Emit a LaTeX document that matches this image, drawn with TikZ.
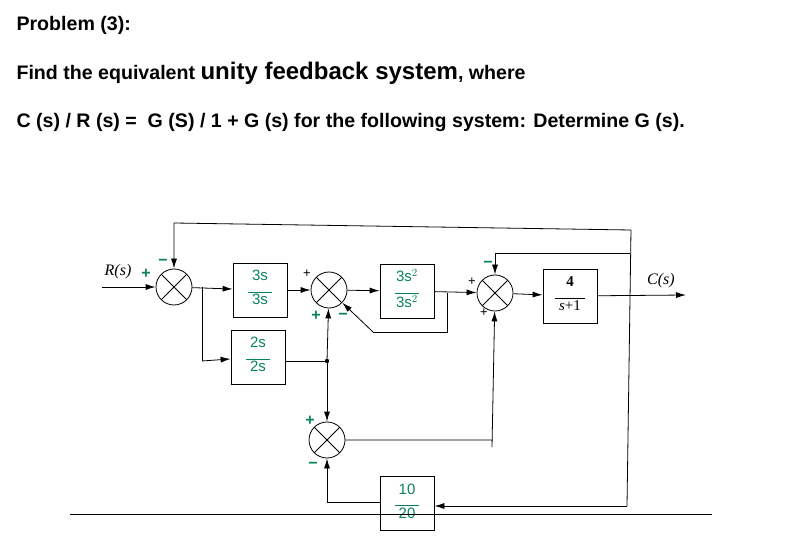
\documentclass[tikz,border=0pt]{standalone}
\usepackage{fontspec}
\setmainfont{Liberation Sans}
\newfontfamily\serifit{Liberation Serif}
\usetikzlibrary{arrows.meta}
\definecolor{grn}{RGB}{10,130,95}
\tikzset{
 sum/.style={circle,draw,thick,minimum size=36pt,inner sep=0pt,path picture={\draw[thick] (path picture bounding box.north west)--(path picture bounding box.south east) (path picture bounding box.north east)--(path picture bounding box.south west);}},
 blk/.style={draw,thick,minimum width=54pt,minimum height=54pt,inner sep=0pt,font=\fontsize{15}{15}\selectfont},
 ln/.style={thick},
 ar/.style={thick,-{Latex[length=10pt,width=6pt]}},
 sg/.style={font=\fontsize{16}{16}\selectfont\bfseries,text=grn},
 sb/.style={font=\fontsize{13}{13}\selectfont},
 ttl/.style={anchor=base west,font=\bfseries\fontsize{19.6}{20}\selectfont}
}
\newcommand{\gf}[2]{\textcolor{grn}{\begin{tabular}{@{}c@{}}#1\\[-3pt]\rule{24pt}{0.7pt}\\[-3pt]#2\end{tabular}}}
\begin{document}
\begin{tikzpicture}[x=1pt,y=-1pt]
\useasboundingbox (0,0) rectangle (796,548);
\node[ttl] (t1) at (13,31) {Problem (3):};
\node[ttl] (t2) at (13,80) {Find the equivalent {\fontsize{24}{24}\selectfont unity feedback system}, where};
\node[ttl] (t3) at (13,128) {C (s) / R (s) =\ \ G (S) / 1 + G (s) for the following system: Determine G (s).};
% summing junctions
\node[sum] (s1) at (174,287) {};
\node[sum] (s2) at (329,290) {};
\node[sum] (s3) at (495,293) {};
\node[sum] (s4) at (327,440) {};
% blocks
\node[blk] (b1) at (260,290) {\gf{3s}{3s}};
\node[blk] (b2) at (258,357) {\gf{2s}{2s}};
\node[blk] (b3) at (407,291) {\gf{3s$^2$}{3s$^2$}};
\node[blk] (b4) at (570,296) {\serifit\begin{tabular}{@{}c@{}}\textbf{4}\\[-3pt]\rule{30pt}{0.7pt}\\[-3pt]\textit{s}+1\end{tabular}};
\node[blk] (b5) at (407,503) {\gf{10}{20}};
% coordinates
\coordinate (rin) at (102,287);
\coordinate (out) at (686,295);
\coordinate (p1) at (202,287);
\coordinate (p2) at (202,361);
\coordinate (dot) at (327,361);
\coordinate (fbtl) at (174,223);
\coordinate (fbtr) at (631,230);
\coordinate (fbbr) at (627,506);
\coordinate (fb3) at (630,253);
\coordinate (fb3l) at (495,253);
\coordinate (q1) at (447,293);
\coordinate (q2) at (447,332);
\coordinate (q3) at (373,332);
\coordinate (q4) at (492,447);
\coordinate (q5) at (327,502);
% connectors
\draw[ar] (rin) -- (s1);
\draw[ar] (s1) -- (b1);
\draw[ln] (p1) -- (p2);
\draw[ar] (p2) -- (b2);
\draw[ar] (b1) -- (s2);
\draw[ar] (s2) -- (b3);
\draw[ar] (b3) -- (s3);
\draw[ln] (q1) -- (q2) -- (q3);
\draw[ar] (q3) -- (s2);
\draw[ar] (s3) -- (b4);
\draw[ar] (b4) -- (out);
\draw[ln] (b2.east|-dot) -- (dot);
\draw[ar] (dot) -- (s2);
\draw[ar] (dot) -- (s4);
\fill (dot) circle (2.2pt);
\draw[ar] (s4) -| (q4) -- (s3);
\draw[ar] (fbtr) -- (fbtl) -- (s1);
\draw[ln] (fbtr) -- (fbbr);
\draw[ar] (fbbr) -- (b5.east|-fbbr);
\draw[ar] (fb3) -- (fb3l) -- (s3);
\draw[ar] (b5.west|-q5) -- (q5) -- (s4);
\draw[thin] (70,514) -- (712,514);
% labels
\node[font=\serifit\itshape\fontsize{16}{16}\selectfont] (rl) at (118,272) {R(s)};
\node[font=\serifit\itshape\fontsize{16}{16}\selectfont] (cl) at (661,281) {C(s)};
\node[sg] (g1) at (146,274) {+};
\node[sg] (g2) at (163,262) {\textminus};
\node[sb] (g3) at (307,274) {+};
\node[sg] (g4) at (316,316) {+};
\node[sg] (g5) at (343,316) {\textminus};
\node[sg] (g6) at (488,264) {\textminus};
\node[sb] (g7) at (472,282) {+};
\node[sb] (g8) at (484,313) {+};
\node[sg] (g9) at (310,421) {+};
\node[sg] (g10) at (313,465) {\textminus};
\end{tikzpicture}
\end{document}
